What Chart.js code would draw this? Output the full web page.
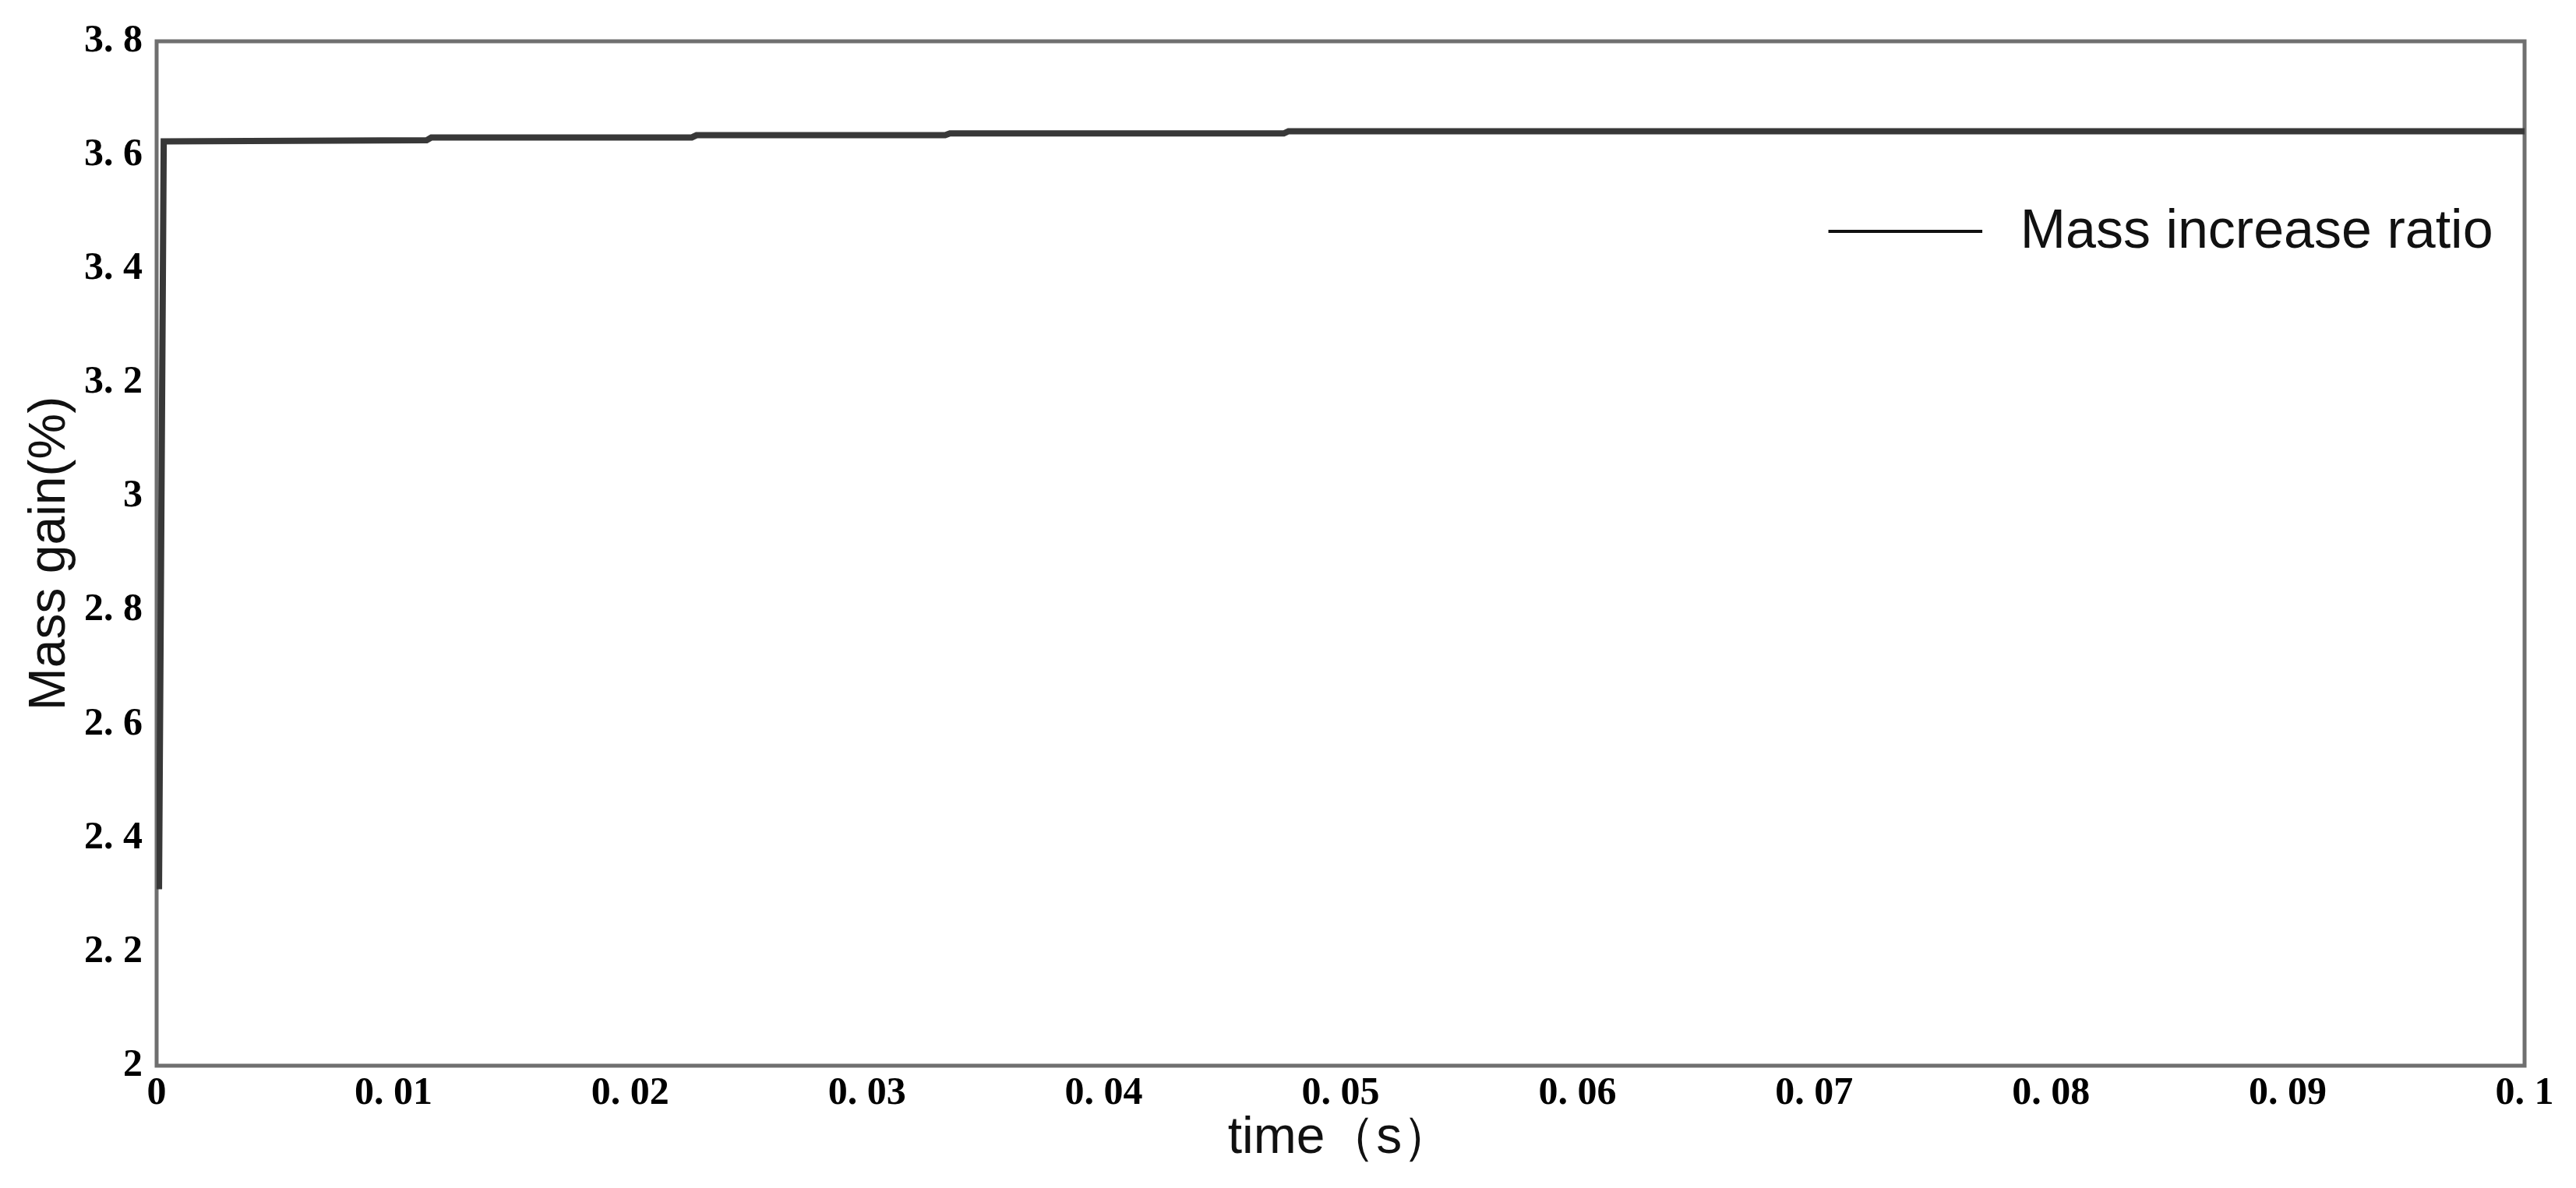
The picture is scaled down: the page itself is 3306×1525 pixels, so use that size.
<!DOCTYPE html>
<html>
<head>
<meta charset="utf-8">
<script src="https://cdn.jsdelivr.net/npm/chart.js@4.4.1/dist/chart.umd.min.js"></script>
<style>
body{margin:0;background:#fff}
#wrap{width:3306px;height:1525px;position:relative}
</style>
</head>
<body>
<div id="wrap"><canvas id="myChart"></canvas></div>
<script>
// values
var timeS = [0.0001, 0.0003, 0.0114, 0.0116, 0.0226, 0.0228, 0.0333, 0.0335, 0.0476, 0.0478, 0.1]
var massGain = [2.31, 3.624, 3.626, 3.631, 3.631, 3.635, 3.635, 3.638, 3.638, 3.642, 3.642]
var xTickLabels = ["0","0. 01","0. 02","0. 03","0. 04","0. 05","0. 06","0. 07","0. 08","0. 09","0. 1"]
var yTickLabels = ["2","2. 2","2. 4","2. 6","2. 8","3","3. 2","3. 4","3. 6","3. 8"]
var seriesLabel = "Mass increase ratio"

var points = []
for (var i = 0; i < timeS.length; i++) {
    points.push({x: timeS[i], y: massGain[i]})
}

// box round the plot area
var frame = {
    id: 'frame',
    beforeDatasetsDraw: function(chart){
        var a = chart.chartArea, ctx = chart.ctx
        ctx.save()
        ctx.strokeStyle = '#6f6f6f'
        ctx.lineWidth = 5
        ctx.strokeRect(a.left, a.top, a.right - a.left, a.bottom - a.top)
        ctx.restore()
    }
}

// legend sits inside the plot, upper right
var innerLegend = {
    id: 'innerLegend',
    afterDraw: function(chart){
        var a = chart.chartArea, ctx = chart.ctx
        var w = a.right - a.left, h = a.bottom - a.top
        var y = a.top + h * 0.1856
        ctx.save()
        ctx.strokeStyle = '#111'
        ctx.lineWidth = 4
        ctx.beginPath()
        ctx.moveTo(a.left + w * 0.706, y)
        ctx.lineTo(a.left + w * 0.771, y)
        ctx.stroke()
        ctx.fillStyle = '#111'
        ctx.font = "70px 'Liberation Sans', sans-serif"
        ctx.textBaseline = 'middle'
        ctx.fillText(chart.data.datasets[0].label, a.left + w * 0.787, y + 2)
        ctx.restore()
    }
}

var myChart = document.getElementById("myChart").getContext('2d')
var chart = new Chart(myChart, {
    type: 'line',
    data: {
        datasets: [{
            label: seriesLabel,
            data: points,
            borderColor: '#383838',
            borderWidth: 8,
            pointRadius: 0,
            tension: 0,
            fill: false
        }]
    },
    options: {
        responsive: true,
        maintainAspectRatio: false,
        animation: false,
        devicePixelRatio: 1,
        layout: {padding: {left: 0, top: 53, right: 66, bottom: 0}},
        plugins: {
            legend: {display: false},
            tooltip: {enabled: false}
        },
        scales: {
            x: {
                type: 'linear',
                min: 0,
                max: 0.1,
                grid: {display: false, drawTicks: false},
                border: {display: false},
                ticks: {
                    stepSize: 0.01,
                    color: '#000',
                    padding: 6,
                    maxRotation: 0,
                    autoSkip: false,
                    font: {family: "'Liberation Serif', serif", size: 50, weight: 'bold'},
                    callback: function(v, i){ return xTickLabels[i] }
                },
                title: {
                    display: true,
                    text: 'time（s）',
                    color: '#111',
                    font: {family: "'Liberation Sans', sans-serif", size: 66},
                    padding: {top: 0, bottom: 24}
                },
                afterFit: function(s){ s.height = 157 }
            },
            y: {
                min: 2,
                max: 3.8,
                grid: {display: false, drawTicks: false},
                border: {display: false},
                ticks: {
                    stepSize: 0.2,
                    color: '#000',
                    padding: 18,
                    autoSkip: false,
                    font: {family: "'Liberation Serif', serif", size: 50, weight: 'bold'},
                    callback: function(v, i){ return yTickLabels[i] }
                },
                title: {
                    display: true,
                    text: 'Mass gain(%)',
                    color: '#111',
                    font: {family: "'Liberation Sans', sans-serif", size: 66},
                    padding: {top: 25, bottom: 0}
                },
                afterFit: function(s){ s.width = 201 }
            }
        }
    },
    plugins: [frame, innerLegend]
})
</script>
</body>
</html>
